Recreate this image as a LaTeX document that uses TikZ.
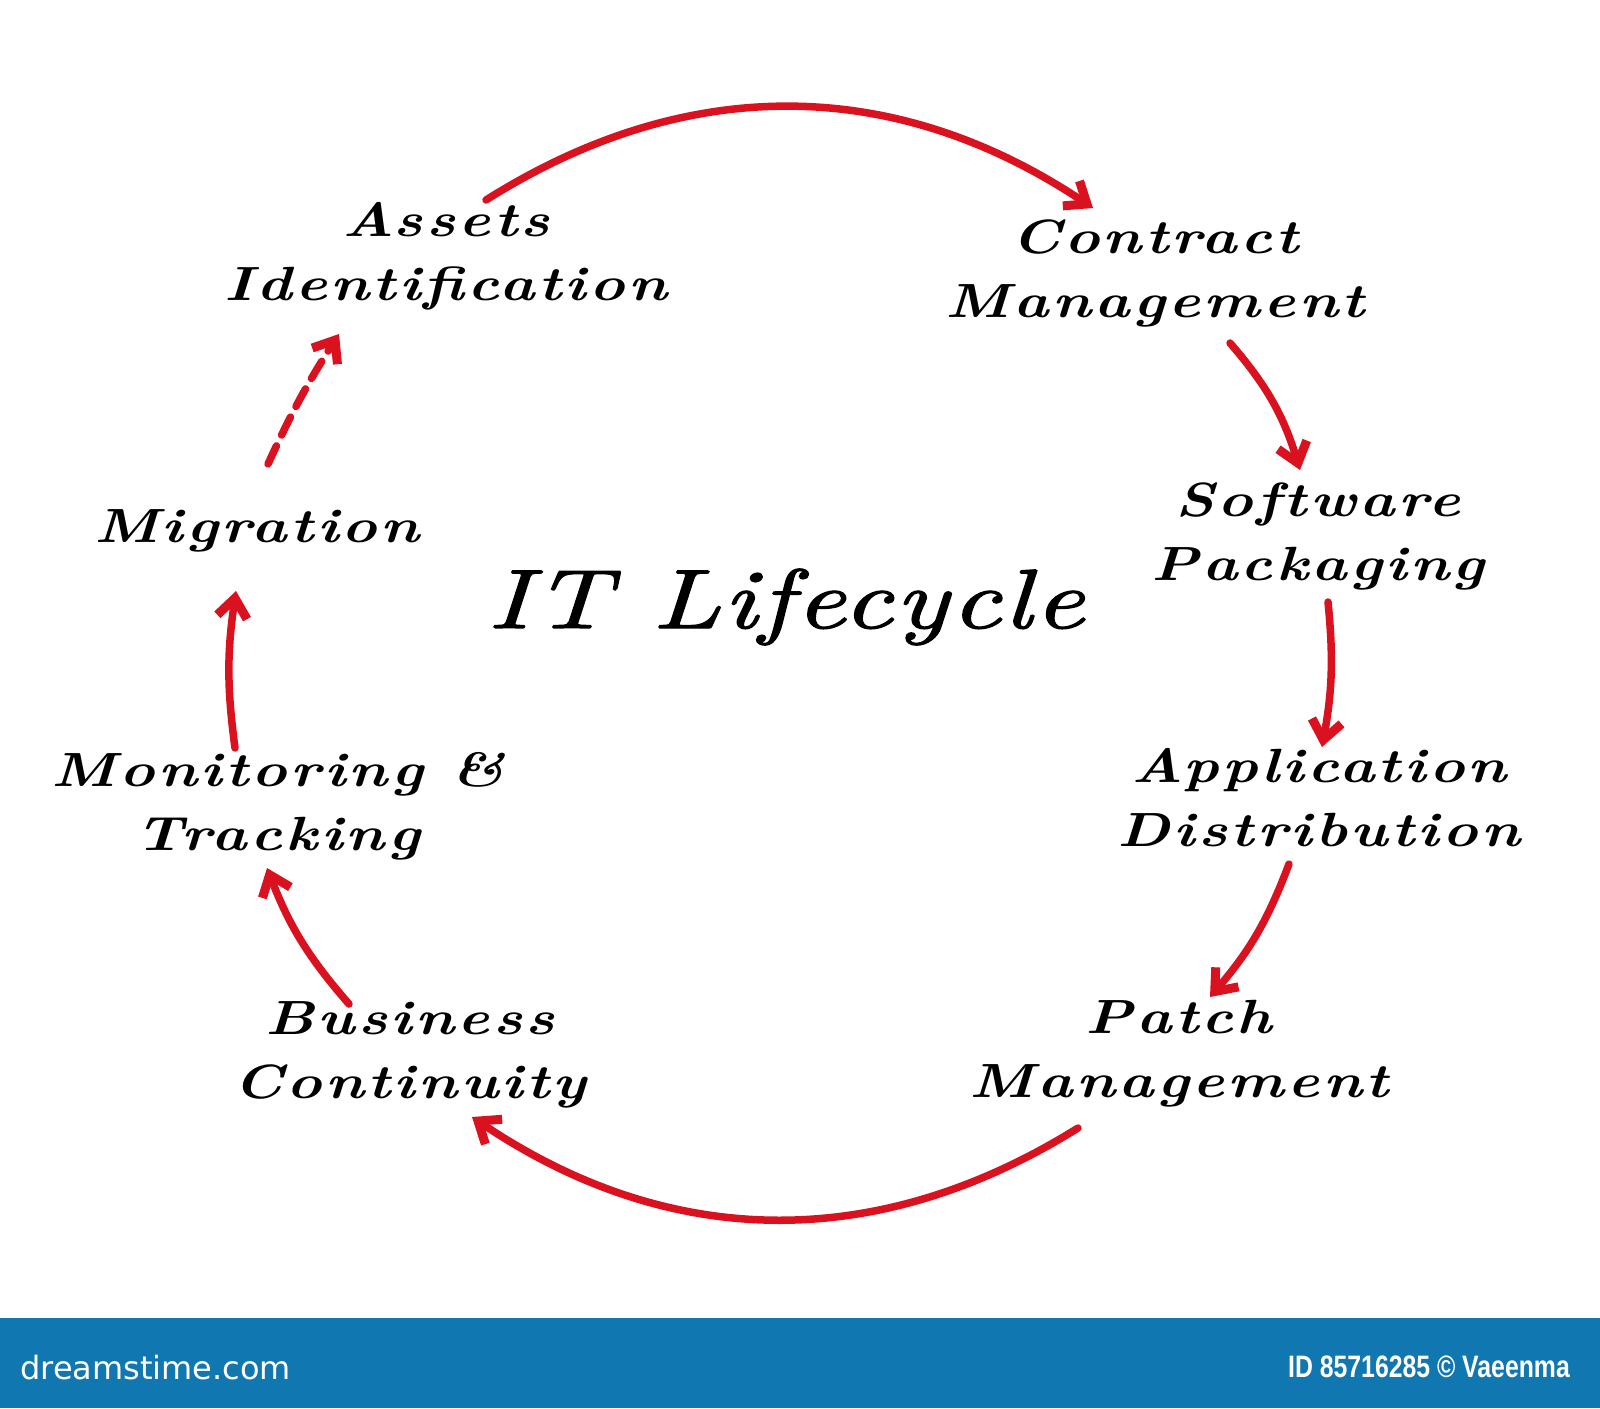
\documentclass[tikz,border=0pt]{standalone}
\usepackage{fontspec}
\usetikzlibrary{arrows.meta}
\newfontfamily\labfont{lmroman10-bolditalic.otf}[FakeStretch=1.25,LetterSpace=7]
\newfontfamily\ttlfont{lmroman10-italic.otf}[FakeStretch=1.3,LetterSpace=3,FakeBold=1.5]
\newfontfamily\barfont{DejaVu Sans}
\newfontfamily\idfont{Liberation Sans Bold}[FakeStretch=0.8]
\definecolor{arrred}{RGB}{218,18,32}
\definecolor{barblue}{RGB}{17,119,176}
\tikzset{
  lab/.style={align=center, inner sep=0pt, font={\labfont\fontsize{48}{64}\selectfont}},
  ttl/.style={inner sep=0pt, font={\ttlfont\fontsize{84}{96}\selectfont}},
  arr/.style={draw=arrred, line width=7.5pt, line cap=round, line join=round,
    -{Straight Barb[length=19pt,width=30pt,line width=9pt]}},
  dasharr/.style={arr, dash pattern=on 20pt off 12pt}
}
\begin{document}
\begin{tikzpicture}[x=1pt,y=-1pt]
\useasboundingbox (0,0) rectangle (1600,1408);
\fill[white] (0,0) rectangle (1600,1318);
\fill[barblue] (0,1318) rectangle (1600,1408);
% labels
\node[lab] (assets) at (446,256) {Assets\\Identification};
\node[lab] (contract) at (1155,273) {Contract\\Management};
\node[lab] (software) at (1318,536) {Software\\Packaging};
\node[lab] (appl) at (1319,798) {Application\\Distribution};
\node[lab] (patch) at (1179,1054) {Patch\\Management};
\node[lab] (business) at (410,1055) {Business\\Continuity};
\node[lab] (monitor) at (278,806) {Monitoring \&\\Tracking};
\node[lab] (migration) at (257,531) {Migration};
\node[ttl] (title) at (786,607) {IT Lifecycle};
% connector end points
\coordinate (s1) at (486,200);   \coordinate (e1) at (1093,208);
\coordinate (s2) at (1230,343);  \coordinate (e2) at (1300,470);
\coordinate (s3) at (1328,602);  \coordinate (e3) at (1322,747);
\coordinate (s4) at (1289,864);  \coordinate (e4) at (1210,997);
\coordinate (s5) at (1078,1128); \coordinate (e5) at (472,1117);
\coordinate (s6) at (349,1004);  \coordinate (e6) at (267,868);
\coordinate (s7) at (235,748);   \coordinate (e7) at (236,591);
\coordinate (s8) at (268,464);   \coordinate (e8) at (339,334);
\draw[arr] (s1) to[bend left=33] (e1);
\draw[arr] (s2) to[bend left=12] (e2);
\draw[arr] (s3) to[bend left=8] (e3);
\draw[arr] (s4) to[bend left=10] (e4);
\draw[arr] (s5) to[bend left=33] (e5);
\draw[arr] (s6) to[bend left=10] (e6);
\draw[arr] (s7) to[bend left=8] (e7);
\draw[dasharr] (s8) to[bend left=4] (e8);
% bottom bar texts
\node[anchor=west, inner sep=0pt, text=white, font={\barfont\fontsize{32}{36}\selectfont}] (brand) at (20,1368) {dreamstime.com};
\node[anchor=east, inner sep=0pt, text=white, font={\idfont\fontsize{31}{34}\selectfont}] (imgid) at (1570,1367) {ID 85716285 © Vaeenma};
\end{tikzpicture}
\end{document}
